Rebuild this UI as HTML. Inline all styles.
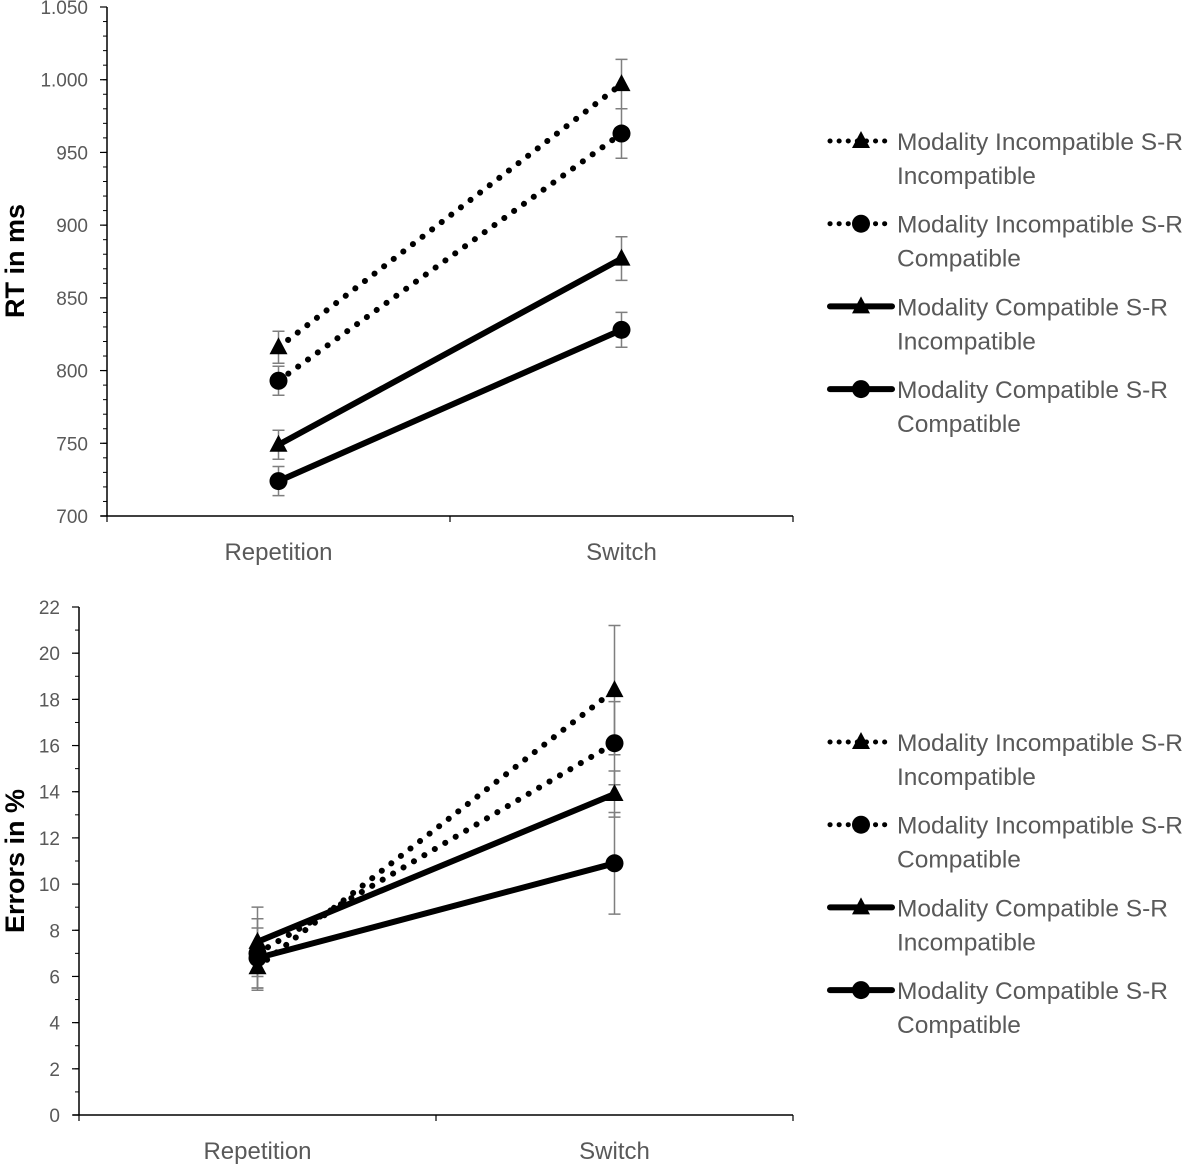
<!DOCTYPE html>
<html><head><meta charset="utf-8"><style>
body{margin:0;background:#fff;width:1200px;height:1167px;overflow:hidden}
svg text{font-family:"Liberation Sans",sans-serif}
</style></head><body>
<svg id="svg" width="1200" height="1167" xmlns="http://www.w3.org/2000/svg"></svg>
<script>
const categories=["Repetition","Switch"];
const seriesNames=["Modality Incompatible S-R|Incompatible","Modality Incompatible S-R|Compatible","Modality Compatible S-R|Incompatible","Modality Compatible S-R|Compatible"];
const seriesMarkers=["tri","circ","tri","circ"];
const seriesDotted=[true,true,false,false];
const rtValues=[[816,997],[793,963],[749,877],[724,828]];
const rtErrors=[[11,17],[10,17],[10,15],[10,12]];
const rtTicks=["700","750","800","850","900","950","1.000","1.050"];
const errValues=[[6.4,18.4],[7.0,16.1],[7.5,13.9],[6.8,10.9]];
const errErrors=[[1.0,2.8],[1.5,1.8],[1.5,1.0],[1.3,2.2]];
const errTicks=["0","2","4","6","8","10","12","14","16","18","20","22"];

const NS="http://www.w3.org/2000/svg";
const svg=document.getElementById('svg');
function el(tag,attrs,parent){const e=document.createElementNS(NS,tag);for(const k in attrs)e.setAttribute(k,attrs[k]);(parent||svg).appendChild(e);return e;}

function chart(cfg){
  const g=el('g',{});
  
  
  const y=v=>cfg.y0-(v-cfg.vmin)/(cfg.vmax-cfg.vmin)*(cfg.y0-cfg.y1);
  const xc=i=>cfg.xL+(i+0.5)*(cfg.xR-cfg.xL)/categories.length;
  const ya=el('line',{x1:cfg.xL,y1:cfg.y1,x2:cfg.xL,y2:cfg.y0,stroke:'#000','stroke-width':1.5},g);
  
  const xa=el('line',{x1:cfg.xL-6,y1:cfg.y0,x2:cfg.xR,y2:cfg.y0,stroke:'#000','stroke-width':1.5},g);
  
  for(let v=cfg.vmin;v<=cfg.vmax+1e-9;v+=cfg.minor){
    el('line',{x1:cfg.xL-4,y1:y(v),x2:cfg.xL,y2:y(v),stroke:'#000','stroke-width':1},g);
  }
  cfg.ticks.forEach((t,i)=>{
    const v=cfg.vmin+i*cfg.major;
    el('line',{x1:cfg.xL-7,y1:y(v),x2:cfg.xL,y2:y(v),stroke:'#000','stroke-width':1.2},g);
    const tx=el('text',{x:cfg.xL-19,y:y(v)+7,'text-anchor':'end','font-size':19,fill:'#595959'},g);
    tx.textContent=t;
    
  });
  for(let i=0;i<=categories.length;i++){
    const xx=cfg.xL+i*(cfg.xR-cfg.xL)/categories.length;
    el('line',{x1:xx,y1:cfg.y0,x2:xx,y2:cfg.y0+6,stroke:'#000','stroke-width':1.2},g);
  }
  categories.forEach((c,i)=>{
    const tx=el('text',{x:xc(i),y:cfg.y0+44,'text-anchor':'middle','font-size':24,fill:'#595959'},g);
    tx.textContent=c;
    
  });
  const tt=el('text',{x:0,y:0,transform:`translate(${cfg.titleX},${cfg.titleY}) rotate(-90)`,'text-anchor':'middle','font-size':27,'font-weight':'bold',fill:'#000'},g);
  tt.textContent=cfg.title;
  
  cfg.vals.forEach((s,si)=>{s.forEach((v,i)=>{
    const e=cfg.errs[si][i],X=xc(i);
    const eb=el('path',{d:`M${X},${y(v+e)}V${y(v-e)}M${X-6},${y(v+e)}h12M${X-6},${y(v-e)}h12`,stroke:'#7f7f7f','stroke-width':1.5,fill:'none'},g);
    
  });});
  cfg.vals.forEach((s,si)=>{
    const sg=el('g',{},g);
    
    const d=s.map((v,i)=>(i?'L':'M')+xc(i)+','+y(v)).join('');
    if(seriesDotted[si]) el('path',{d,stroke:'#000','stroke-width':6,fill:'none','stroke-dasharray':'0.1 12','stroke-linecap':'round'},sg);
    else el('path',{d,stroke:'#000','stroke-width':6,fill:'none'},sg);
    s.forEach((v,i)=>{
      const m=marker(seriesMarkers[si],xc(i),y(v),sg);
      
    });
  });
  seriesNames.forEach((n,si)=>{
    const ly=cfg.legY+si*82.7;
    const lg=el('g',{},g);
    
    if(seriesDotted[si]) el('path',{d:`M830,${ly}H890`,stroke:'#000','stroke-width':5,'stroke-dasharray':'0.1 9','stroke-linecap':'round'},lg);
    else el('path',{d:`M830,${ly}H892`,stroke:'#000','stroke-width':6,'stroke-linecap':'round'},lg);
    marker(seriesMarkers[si],861,ly,lg);
    const parts=n.split('|');
    const t1=el('text',{x:897,y:ly+9,'font-size':24.5,fill:'#595959'},lg);t1.textContent=parts[0];
    const t2=el('text',{x:897,y:ly+43,'font-size':24.5,fill:'#595959'},lg);t2.textContent=parts[1];
  });
}
function marker(t,x,y,p){
  if(t==='circ') return el('circle',{cx:x,cy:y,r:9,fill:'#000'},p);
  return el('path',{d:`M${x},${y-10}L${x+9},${y+7}L${x-9},${y+7}Z`,fill:'#000'},p);
}
chart({name:'rt-chart',xL:107,xR:793,y0:516,y1:7,vmin:700,vmax:1050,major:50,minor:10,ticks:rtTicks,vals:rtValues,errs:rtErrors,title:'RT in ms',titleX:24,titleY:261,legY:141});
chart({name:'errors-chart',xL:79,xR:793,y0:1115,y1:607,vmin:0,vmax:22,major:2,minor:1,ticks:errTicks,vals:errValues,errs:errErrors,title:'Errors in %',titleX:24,titleY:861,legY:742});
</script>
</body></html>
